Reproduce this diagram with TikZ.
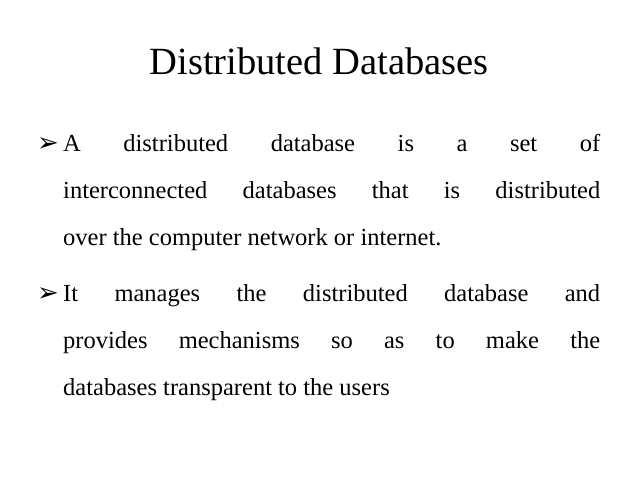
\documentclass[tikz,border=0pt]{standalone}
\usepackage{fontspec}
\setmainfont{Liberation Serif}
\newfontfamily\symfont{DejaVu Sans}
\begin{document}
\begin{tikzpicture}[x=1pt,y=1pt,
  body/.style={anchor=base west,inner sep=0pt,font=\fontsize{24.5}{29}\selectfont},
  bul/.style={anchor=base west,inner sep=0pt,font=\symfont\fontsize{26}{30}\selectfont}]
\useasboundingbox (0,0) rectangle (638,-478);
\node[anchor=base,inner sep=0pt,font=\fontsize{38.5}{44}\selectfont] (title) at (319,-75) {Distributed Databases};
\node[bul] (b1) at (37,-152) {➢};
\node[body] (l1) at (63,-152) {\makebox[537pt][s]{A distributed database is a set of}};
\node[body] (l2) at (63,-199) {\makebox[537pt][s]{interconnected databases that is distributed}};
\node[body] (l3) at (63,-246) {over the computer network or internet.};
\node[bul] (b2) at (37,-302) {➢};
\node[body] (l4) at (63,-302) {\makebox[537pt][s]{It manages the distributed database and}};
\node[body] (l5) at (63,-349) {\makebox[537pt][s]{provides mechanisms so as to make the}};
\node[body] (l6) at (63,-396) {databases transparent to the users};
\end{tikzpicture}
\end{document}
